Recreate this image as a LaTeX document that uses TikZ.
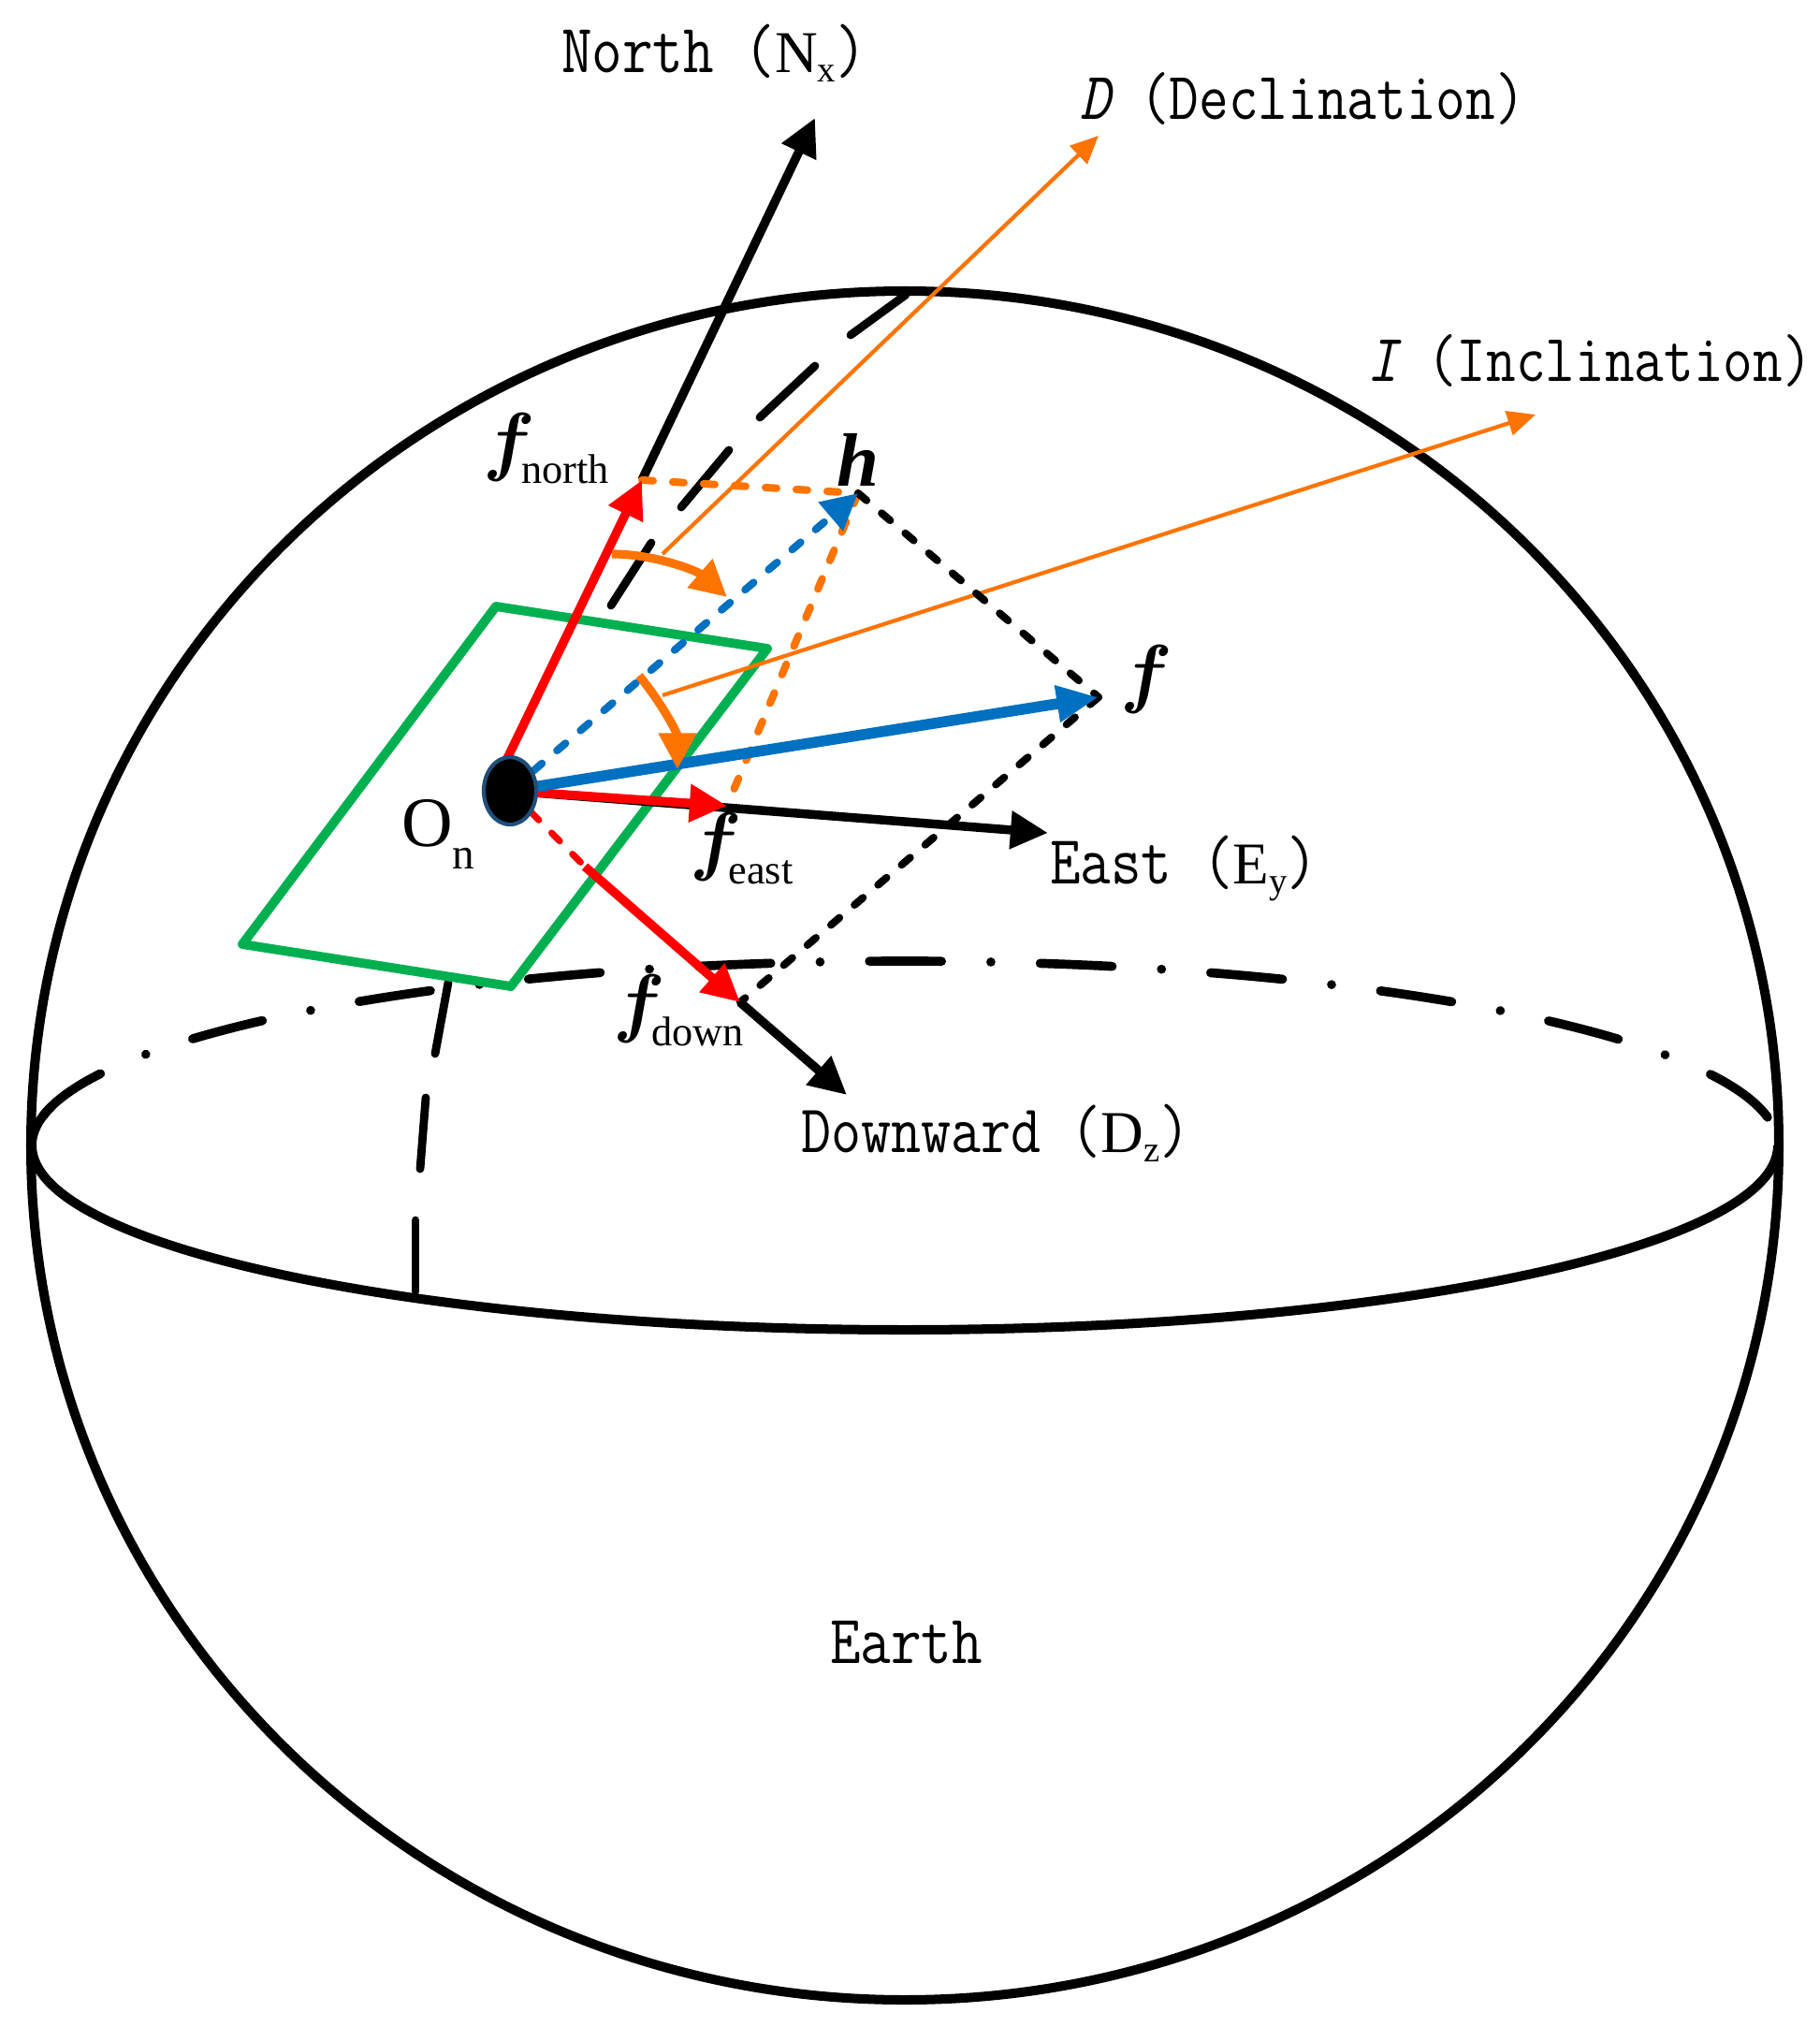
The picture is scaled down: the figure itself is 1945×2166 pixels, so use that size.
\documentclass[tikz,border=0pt]{standalone}
\usepackage{fontspec}
\setmainfont{Liberation Serif}
\usetikzlibrary{arrows.meta}
\definecolor{planegreen}{HTML}{00B050}
\definecolor{vecblue}{HTML}{0070C0}
\definecolor{angleorange}{HTML}{FF7300}
\definecolor{dotrim}{HTML}{1F4E79}
\newcommand{\monotxt}[2][18]{\scalebox{1}[1.17]{\ttfamily\fontsize{#1}{20}\selectfont #2}}
\newcommand{\romantxt}[2]{{\fontsize{18}{20}\selectfont #1}\raisebox{-3pt}{\fontsize{11}{12}\selectfont #2}}
\newcommand{\boldf}[2]{\scalebox{2.33}{\boldmath$f$}\hspace{-4pt}\raisebox{-5.4pt}{\fontsize{12.6}{14}\selectfont #2}}
\tikzset{
  sphereline/.style={line width=2.85pt},
  gridlong/.style={line width=2.5pt,line cap=round},
  txt/.style={anchor=base west,inner sep=0pt,outer sep=0pt},
  bigarrow/.style={line width=2.7pt,-{Triangle[length=11.4pt,width=11pt]}},
  thinarrow/.style={line width=1.2pt,angleorange,-{Triangle[length=8.5pt,width=7.5pt]}},
  anglearrow/.style={line width=2.6pt,angleorange,-{Triangle[length=11pt,width=11pt]}},
  dotted line/.style={line width=2.3pt,line cap=round,dash pattern=on 3.4pt off 6pt}
}
\begin{document}
\begin{tikzpicture}[x=0.01cm,y=-0.01cm]
          \useasboundingbox (0,0) rectangle (1945,2166);
          \coordinate (eqleft) at (34,1224);
          \coordinate (O) at (545,845);
          \coordinate (northstart) at (535,825);
          \coordinate (fnorth) at (686,513);
          \coordinate (feast) at (777,861);
          \coordinate (fdown) at (791,1071);
          \coordinate (hvec) at (917,527);
          \coordinate (fvec) at (1174,745);
          \coordinate (nx) at (871,126);
          \coordinate (ey) at (1120,890);
          \coordinate (dz) at (905,1170);
          \coordinate (breakdown) at (625,926);
          \coordinate (dstart) at (708,592);
          \coordinate (dend) at (1174,145);
          \coordinate (istart) at (708,743);
          \coordinate (iend) at (1641,443);
          \draw[sphereline] (967,1224) ellipse [x radius=934,y radius=913];
          \draw[sphereline] (eqleft) arc [start angle=180,end angle=0,x radius=933,y radius=197];
          \draw[line width=2.75pt,line cap=round] (eqleft) arc [start angle=180,end angle=192,x radius=933,y radius=197];
          \draw[line width=2.75pt,line cap=round,dash pattern=on 21.9pt off 15pt on 0.01pt off 14.99pt,dash phase=42.2pt]
            (eqleft) arc [start angle=180,end angle=352,x radius=933,y radius=197];
          \foreach \xa/\ya/\xb/\yb in {968/315/909/358,871/391/812/446,779/481/728/542,696/580/653/647,
            479/1050/465/1126,455/1173/449/1249,444/1304/444/1380}
            \draw[gridlong] (\xa,\ya) -- (\xb,\yb);
          \draw[line width=2.8pt,planegreen,fill=white,line join=round] (530,648) -- (820,693) -- (546,1054) -- (259,1009) -- cycle;
          \draw[bigarrow] (fnorth) -- (nx);
          \draw[bigarrow] (O) -- (ey);
          \draw[bigarrow] (fdown) -- (dz);
          \draw[thinarrow] (dstart) -- (dend);
          \draw[thinarrow] (istart) -- (iend);
          \draw[dotted line,angleorange] (fnorth) -- (hvec);
          \draw[dotted line,angleorange] (hvec) -- (feast);
          \draw[dotted line] (hvec) -- (fvec);
          \draw[dotted line] (fvec) -- (fdown);
          \draw[dotted line,vecblue,-{Triangle[length=11pt,width=11pt]}] (O) -- (hvec);
          \draw[bigarrow,red] (northstart) -- (fnorth);
          \draw[bigarrow,red] (O) -- (feast);
          \draw[line width=2pt,red,line cap=round,dash pattern=on 3.5pt off 5.5pt] (O) -- (breakdown);
          \draw[bigarrow,red] (breakdown) -- (fdown);
          \draw[line width=3.3pt,vecblue,-{Triangle[length=12.7pt,width=10.5pt]}] (O) -- (fvec);
          \draw[anglearrow] (654,592) .. controls (700,592) and (745,610) .. (777,638);
          \draw[anglearrow] (683,722) .. controls (710,755) and (724,785) .. (724,822);
          \draw[line width=1.2pt,draw=dotrim,fill=black] (O) ellipse [x radius=28,y radius=36];
          \node[txt] (northlabel) at (600,77) {\monotxt{North (}\romantxt{N}{x}\monotxt{)}};
          \node[txt] (declabel) at (1154,127) {\monotxt[17.5]{\itshape D}\monotxt[17.5]{ (Declination)}};
          \node[txt] (inclabel) at (1461,407) {\monotxt[17.5]{\itshape I}\monotxt[17.5]{ (Inclination)}};
          \node[txt] (eastlabel) at (1122,944) {\monotxt{East (}\romantxt{E}{y}\monotxt{)}};
          \node[txt] (downlabel) at (856,1231) {\monotxt[17.7]{Downward (}\romantxt{D}{z}\monotxt{)}};
          \node[txt] (earthlabel) at (887,1777) {\monotxt{Earth}};
          \node[txt] (fnorthlabel) at (516,498) {\boldf{f}{north}};
          \node[txt] (feastlabel) at (737,925) {\boldf{f}{east}};
          \node[txt] (fdownlabel) at (655,1098) {\boldf{f}{down}};
          \node[txt] (hlabel) at (894,519) {{\fontsize{23}{24}\selectfont\bfseries\itshape h}};
          \node[txt] (flabel) at (1197,746) {\scalebox{2.33}{\boldmath$f$}};
          \node[txt] (Olabel) at (429,904) {{\fontsize{21.5}{22}\selectfont O}\raisebox{-7pt}{\fontsize{13.4}{14}\selectfont n}};
\end{tikzpicture}
\end{document}
